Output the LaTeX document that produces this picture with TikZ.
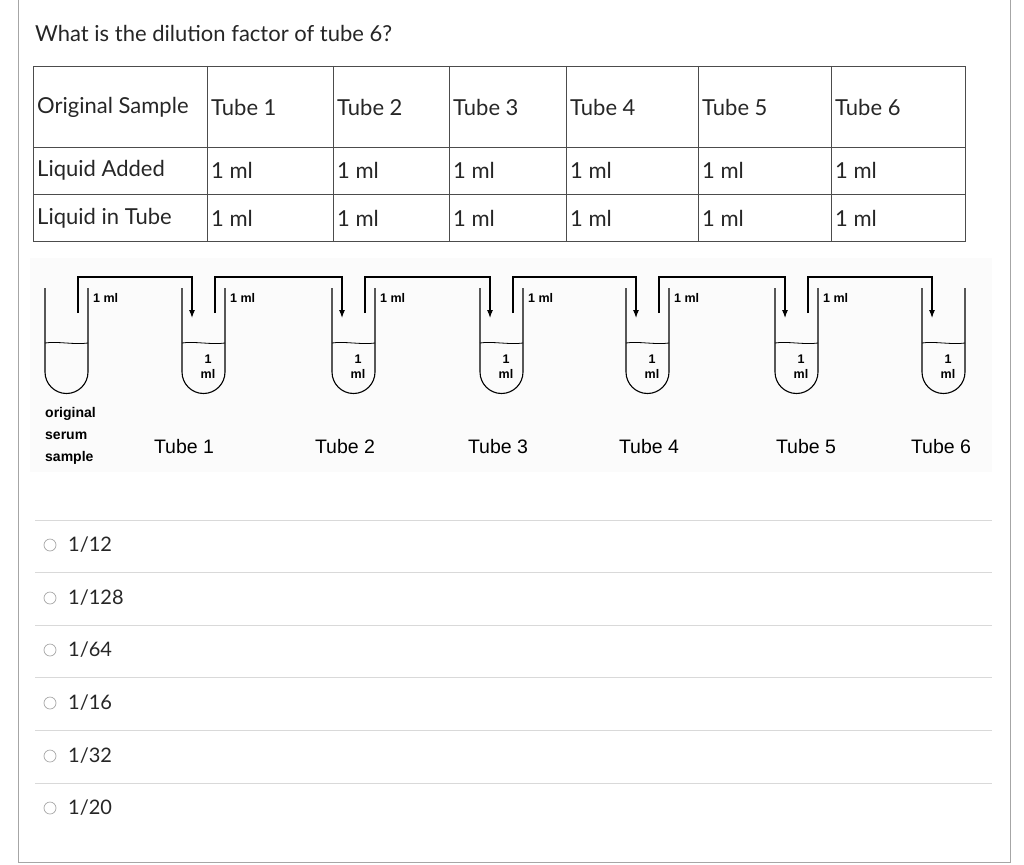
\documentclass[tikz,border=0pt]{standalone}
\usepackage{fontspec}
\usetikzlibrary{arrows.meta}
\setmainfont{Lato}
\newfontfamily\arialf{Liberation Sans}
\begin{document}
\begin{tikzpicture}[x=1pt,y=-1pt,
  txt/.style={anchor=west,inner sep=0pt,font=\fontsize{22}{26}\selectfont,text=black!85},
  tlab/.style={anchor=center,inner sep=0pt,font=\arialf\fontsize{19.5}{22}\selectfont},
  sml/.style={anchor=west,inner sep=0pt,font=\arialf\bfseries\fontsize{12.5}{14}\selectfont},
  tube/.style={line width=1.1pt},
  grid/.style={draw=black!70,line width=0.8pt},
  sep/.style={draw=black!15,line width=0.8pt}]
\useasboundingbox (0,0) rectangle (1024,864);
\draw[draw=black!35,line width=1pt] (18,-2) -- (18,862) -- (1010,862) -- (1010,-2);
\node[txt] (q) at (35,33) {What is the dilution factor of tube 6?};
% table
\draw[grid] (33,66) rectangle (965,241);
\draw[grid] (33,147) -- (965,147) (33,194) -- (965,194);
\foreach \x in {207,333,449,566,698,831} \draw[grid] (\x,66) -- (\x,241);
\node[txt] (h0) at (37,107) {Original Sample};
\foreach \x/\t [count=\i] in {211/Tube 1,337/Tube 2,453/Tube 3,570/Tube 4,702/Tube 5,835/Tube 6}{
  \node[txt] (h\i) at (\x,107) {\t};
  \node[txt] (a\i) at (\x,170) {1 ml};
  \node[txt] (b\i) at (\x,218) {1 ml};
}
\node[txt] (r1) at (37,170) {Liquid Added};
\node[txt] (r2) at (37,218) {Liquid in Tube};
% tubes
\fill[black!1.5] (30,258) rectangle (992,472);
\foreach \L [count=\i from 0] in {45,182,332,480,626,775,922}{
  \draw[tube] (\L,288) -- (\L,372) arc[start angle=180,end angle=0,radius=21.5] -- (\L+43,288);
  \draw[line width=0.8pt] (\L,343) .. controls (\L+12,341) and (\L+30,345) .. (\L+43,343);
  \ifnum\i>0
    \node[inner sep=0pt,font=\arialf\bfseries\fontsize{12.5}{13}\selectfont,align=center] (v\i) at (\L+26,367) {1\\[2pt]ml};
  \fi
}
\foreach \L/\N [count=\i] in {45/182,182/332,332/480,480/626,626/775,775/922}{
  \coordinate (s\i) at (\L+33,313);
  \coordinate (e\i) at (\N+10,318);
  \draw[line width=1.1pt,-{Latex[length=8pt,width=6pt]}] (s\i) |- (\L+33,277) -| (e\i);
  \node[sml] (m\i) at (\L+48,298) {1 ml};
}
\node[anchor=west,inner sep=0pt,font=\arialf\bfseries\fontsize{14}{22}\selectfont,align=left] (orig) at (45,436) {original\\serum\\sample};
\foreach \x [count=\i] in {184,345,498,649,806,941}
  \node[tlab] (t\i) at (\x,447) {Tube \i};
% options
\foreach \y in {520,572,625,677,730,783} \draw[sep] (35,\y) -- (992,\y);
\foreach \v/\y [count=\i] in {{1/12}/545,{1/128}/598,{1/64}/650,{1/16}/703,{1/32}/756,{1/20}/808}{
  \node[draw=black!35,circle,minimum size=12pt,inner sep=0pt,line width=0.7pt] (c\i) at (50,\y) {};
  \node[txt,font=\fontsize{20}{24}\selectfont] (o\i) at (68,\y) {\v};
}
\end{tikzpicture}
\end{document}
